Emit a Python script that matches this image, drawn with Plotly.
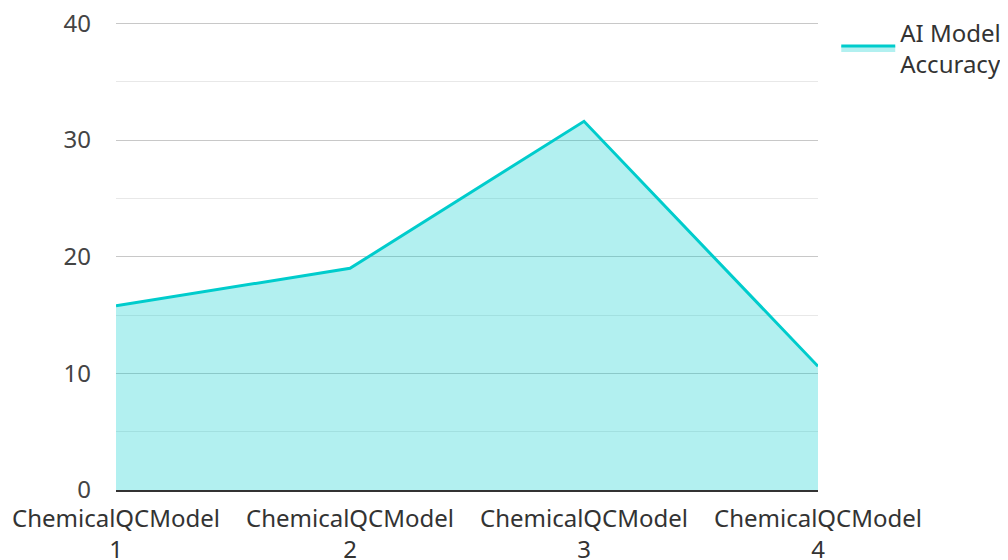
import plotly.graph_objects as go

categories = ["ChemicalQCModel<br>1", "ChemicalQCModel<br>2", "ChemicalQCModel<br>3", "ChemicalQCModel<br>4"]
accuracy = [15.8, 19.0, 31.6, 10.6]
series_name = "AI Model<br>Accuracy"

fig = go.Figure()
fig.add_trace(go.Scatter(
    x=categories, y=accuracy, name=series_name, mode="lines",
    line=dict(color="rgb(0,204,204)", width=3),
    fill="tozeroy", fillcolor="rgba(0,204,204,0.3)",
))

fig.update_layout(
    width=1008, height=560,
    margin=dict(l=108, r=198, t=13, b=78, autoexpand=False),
    paper_bgcolor="white", plot_bgcolor="white",
    font=dict(family="Noto Sans", size=24, color="#444"),
    showlegend=True,
    legend=dict(x=1.026, y=1.023, xanchor="left", yanchor="top",
                font=dict(size=24, color="#333"), tracegroupgap=0,
                itemwidth=54),
    xaxis=dict(type="category", range=[0, 3], showgrid=False, automargin=False,
               showline=True, linecolor="#333", linewidth=2,
               ticks="", ticklabelstandoff=6, tickfont=dict(size=24, color="#333")),
    yaxis=dict(range=[0, 40.2], tickmode="array", tickvals=[0, 10, 20, 30, 40],
               showgrid=True, gridcolor="#c8c8c8",
               gridwidth=1, zeroline=False, showline=False, ticks="", automargin=False,
               ticklabelstandoff=24, ticklabeloverflow="allow",
               tickfont=dict(size=24, color="#444"),
               minor=dict(tickvals=[5, 15, 25, 35], showgrid=True, gridcolor="#e8e8e8", gridwidth=1)),
)

fig.write_html("out.html")
